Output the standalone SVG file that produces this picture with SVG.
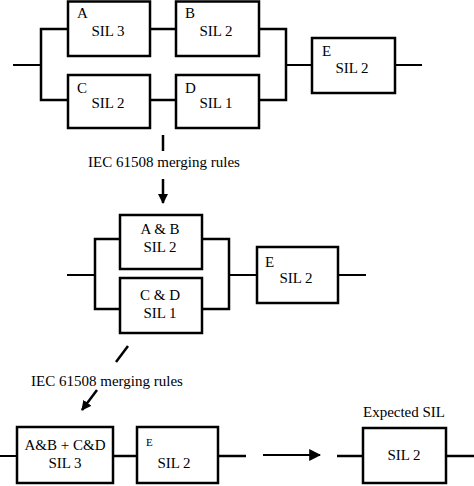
<svg xmlns="http://www.w3.org/2000/svg" width="474" height="486" viewBox="0 0 474 486">
<defs>
<style>
.box{fill:#fff;stroke:#000;stroke-width:2.5}
.ln{fill:none;stroke:#000;stroke-width:2.5}
.thin{fill:none;stroke:#000;stroke-width:2}
.c{text-anchor:middle}
</style>
<marker id="ah" viewBox="0 0 10 10" refX="9" refY="5" markerWidth="4" markerHeight="4" orient="auto" markerUnits="strokeWidth">
<path d="M0,0 L10,5 L0,10 z" fill="#000"/>
</marker>
<marker id="ah2" viewBox="0 0 10 10" refX="9" refY="5" markerWidth="6" markerHeight="6" orient="auto" markerUnits="strokeWidth">
<path d="M0,0 L10,5 L0,10 z" fill="#000"/>
</marker>
</defs>
<rect width="474" height="486" fill="#fff"/>
<g id="connectors">
<path class="thin" d="M13,65 H41"/>
<path class="ln" d="M68,29 H41 V100 H68"/>
<path class="ln" d="M150,29 H176"/>
<path class="ln" d="M150,100 H176"/>
<path class="ln" d="M259,29 H286 V100 H259"/>
<path class="thin" d="M286,65 H312"/>
<path class="thin" d="M395,65 H422"/>
<path class="ln" d="M163,135 V151" stroke-width="3"/>
<path class="ln" d="M163,179 V203" marker-end="url(#ah)"/>
<path class="thin" d="M67,275 H95"/>
<path class="ln" d="M120,239 H95 V309 H120"/>
<path class="ln" d="M202,239 H229 V309 H202"/>
<path class="thin" d="M229,275 H257"/>
<path class="thin" d="M338,275 H366"/>
<path class="ln" d="M128,346 L116,362"/>
<path class="ln" d="M97,390 L82,410" marker-end="url(#ah)"/>
<path class="thin" d="M0,456 H17"/>
<path class="ln" d="M113,456 H137"/>
<path class="ln" d="M218,456 H246"/>
<path class="thin" d="M263,455 H320" stroke-width="1.5" marker-end="url(#ah2)"/>
<path class="ln" d="M337,456 H363"/>
<path class="ln" d="M446,456 H474"/>
</g>
<g font-family="Liberation Serif, serif" font-size="15" fill="#000">
<g id="nodeA"><rect class="box" x="68" y="1.5" width="82" height="54.5"/><text x="77" y="18">A</text><text class="c" x="108" y="36">SIL 3</text></g>
<g id="nodeB"><rect class="box" x="176" y="1.5" width="83" height="54.5"/><text x="185" y="18">B</text><text class="c" x="216" y="36">SIL 2</text></g>
<g id="nodeC"><rect class="box" x="68" y="75" width="82" height="53"/><text x="77" y="93">C</text><text class="c" x="108" y="108">SIL 2</text></g>
<g id="nodeD"><rect class="box" x="176" y="75" width="83" height="53"/><text x="185" y="93">D</text><text class="c" x="216" y="108">SIL 1</text></g>
<g id="nodeE"><rect class="box" x="312" y="38" width="83" height="55"/><text x="322" y="56">E</text><text class="c" x="352" y="73">SIL 2</text></g>
<g id="label1"><text class="c" x="164" y="167">IEC 61508 merging rules</text></g>
<g id="nodeAB"><rect class="box" x="120" y="215" width="82" height="54"/><text class="c" x="160" y="234">A &amp; B</text><text class="c" x="160" y="252">SIL 2</text></g>
<g id="nodeCD"><rect class="box" x="120" y="278" width="82" height="55"/><text class="c" x="160" y="300">C &amp; D</text><text class="c" x="160" y="318">SIL 1</text></g>
<g id="nodeE2"><rect class="box" x="257" y="247" width="81" height="56"/><text x="265" y="267">E</text><text class="c" x="296" y="283">SIL 2</text></g>
<g id="label2"><text class="c" x="107" y="386">IEC 61508 merging rules</text></g>
<g id="nodeABCD"><rect class="box" x="17" y="427" width="96" height="56"/><text class="c" x="65" y="450">A&amp;B + C&amp;D</text><text class="c" x="65" y="468">SIL 3</text></g>
<g id="nodeE3"><rect class="box" x="137" y="427" width="81" height="56"/><text x="146" y="446" font-size="11">E</text><text class="c" x="174" y="468">SIL 2</text></g>
<g id="nodeExp"><text class="c" x="404" y="417">Expected SIL</text><rect class="box" x="363" y="428" width="83" height="55"/><text class="c" x="404" y="460">SIL 2</text></g>
</g>
</svg>
